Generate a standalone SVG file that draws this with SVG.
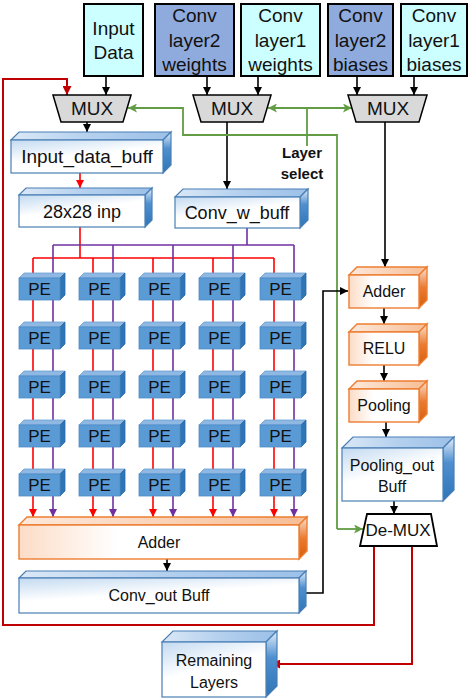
<svg xmlns="http://www.w3.org/2000/svg" xmlns:xlink="http://www.w3.org/1999/xlink" width="474" height="700" viewBox="0 0 474 700">
<style>
text{font-family:"Liberation Sans",Arial,sans-serif;fill:#111;text-anchor:middle}
.src{stroke:#000;stroke-width:2}
.cyan{fill:#ccffff}
.dblue{fill:#8faadc}
.t19{font-size:19px}
.t18{font-size:18px}
.t16{font-size:16px}
.pe{font-size:17px}
.mux{fill:#d9d9d9;stroke:#000;stroke-width:1.5}
.bb{stroke:#4a7fb5;stroke-width:1.2}
.ob{stroke:#ed7d31;stroke-width:1.4}
.bfront{fill:url(#bFront)}
.btop{fill:url(#bTop)}
.bside{fill:url(#bSide)}
.ofront{fill:url(#oFront)}
.otop{fill:url(#oTop)}
.oside{fill:url(#oSide)}
.blk{stroke:#000;stroke-width:1.6;fill:none}
.red{stroke:#ff0000;stroke-width:1.6;fill:none}
.dred{stroke:#c00000;stroke-width:2;fill:none}
.pur{stroke:#7030a0;stroke-width:1.6;fill:none}
.grn{stroke:#629c44;stroke-width:1.8;fill:none}
</style>
<defs>
<linearGradient id="bFront" x1="0" y1="0" x2="0.5" y2="1"><stop offset="0" stop-color="#c3daf1"/><stop offset="0.55" stop-color="#ffffff"/><stop offset="1" stop-color="#ffffff"/></linearGradient>
<linearGradient id="bTop" x1="0" y1="0" x2="1" y2="0"><stop offset="0" stop-color="#dbe8f6"/><stop offset="0.5" stop-color="#b4d0ee"/><stop offset="1" stop-color="#9cc0e8"/></linearGradient>
<linearGradient id="bSide" x1="0" y1="0" x2="0" y2="1"><stop offset="0" stop-color="#e6f0fa"/><stop offset="0.4" stop-color="#4f8fd0"/><stop offset="1" stop-color="#2e75b6"/></linearGradient>
<linearGradient id="oFront" x1="0" y1="0" x2="1" y2="0"><stop offset="0" stop-color="#fcdcc6"/><stop offset="0.35" stop-color="#ffffff"/><stop offset="1" stop-color="#ffffff"/></linearGradient>
<linearGradient id="oTop" x1="0" y1="0" x2="1" y2="0"><stop offset="0" stop-color="#fde9dc"/><stop offset="1" stop-color="#f6bd95"/></linearGradient>
<linearGradient id="oSide" x1="0" y1="0" x2="0" y2="1"><stop offset="0" stop-color="#fbe3d2"/><stop offset="0.5" stop-color="#ea7b33"/><stop offset="1" stop-color="#d85f0b"/></linearGradient>
<g id="peShape">
<polygon points="0,0 5,-5 46,-5 41,0" fill="#8fb9e3" stroke="#6a9fd3" stroke-width="0.8"/>
<polygon points="41,0 46,-5 46,17 41,22" fill="#2e75b6" stroke="#2e6aa8" stroke-width="0.8"/>
<rect x="0" y="0" width="41" height="22" fill="#5b9bd5" stroke="#4f8cc6" stroke-width="0.8"/>
</g>
<marker id="aBlk" viewBox="0 0 8 8" refX="8" refY="4" markerWidth="8" markerHeight="8" markerUnits="userSpaceOnUse" orient="auto-start-reverse"><path d="M0,0 L8,4 L0,8 z" fill="#000"/></marker>
<marker id="aRed" viewBox="0 0 8 8" refX="8" refY="4" markerWidth="8" markerHeight="8" markerUnits="userSpaceOnUse" orient="auto-start-reverse"><path d="M0,0 L8,4 L0,8 z" fill="#ff0000"/></marker>
<marker id="aDred" viewBox="0 0 8 8" refX="8" refY="4" markerWidth="9" markerHeight="9" markerUnits="userSpaceOnUse" orient="auto-start-reverse"><path d="M0,0 L8,4 L0,8 z" fill="#c00000"/></marker>
<marker id="aPur" viewBox="0 0 8 8" refX="8" refY="4" markerWidth="8" markerHeight="8" markerUnits="userSpaceOnUse" orient="auto-start-reverse"><path d="M0,0 L8,4 L0,8 z" fill="#7030a0"/></marker>
<marker id="aGrn" viewBox="0 0 8 8" refX="8" refY="4" markerWidth="9" markerHeight="9" markerUnits="userSpaceOnUse" orient="auto-start-reverse"><path d="M0,0 L8,4 L0,8 L2,4 z" fill="#629c44"/></marker>
</defs>
<rect width="474" height="700" fill="#ffffff"/>

<g id="connectors">
<path class="blk" d="M106,76 V95" marker-end="url(#aBlk)"/>
<path class="blk" d="M207,76 V95" marker-end="url(#aBlk)"/>
<path class="blk" d="M258,76 V95" marker-end="url(#aBlk)"/>
<path class="blk" d="M357,76 V95" marker-end="url(#aBlk)"/>
<path class="blk" d="M414,76 V95" marker-end="url(#aBlk)"/>
<path class="blk" d="M87,122 V132" marker-end="url(#aBlk)"/>
<path class="blk" d="M227,122 V189" marker-end="url(#aBlk)"/>
<path class="blk" d="M385,122 V267" marker-end="url(#aBlk)"/>
<path class="grn" d="M307,108 V146"/>
<path class="grn" d="M268,108 H352" marker-start="url(#aGrn)" marker-end="url(#aGrn)"/>
<path class="grn" d="M337,529 V135 H183 V108 H128" marker-end="url(#aGrn)"/>
<path class="grn" d="M337,529 H363" marker-end="url(#aGrn)"/>
<path class="red" d="M80,173 V188" marker-end="url(#aRed)"/>
<path class="red" d="M80,227 V258"/>
<path class="red" d="M33,258 H274"/>
<path class="pur" d="M247,228 V245"/>
<path class="pur" d="M53,245 H294"/>
<path class="red" d="M33,258 V517" marker-end="url(#aRed)"/>
<path class="red" d="M93,258 V517" marker-end="url(#aRed)"/>
<path class="red" d="M153,258 V517" marker-end="url(#aRed)"/>
<path class="red" d="M213,258 V517" marker-end="url(#aRed)"/>
<path class="red" d="M274,258 V517" marker-end="url(#aRed)"/>
<path class="pur" d="M53,245 V517" marker-end="url(#aPur)"/>
<path class="pur" d="M113,245 V517" marker-end="url(#aPur)"/>
<path class="pur" d="M173,245 V517" marker-end="url(#aPur)"/>
<path class="pur" d="M233,245 V517" marker-end="url(#aPur)"/>
<path class="pur" d="M294,245 V517" marker-end="url(#aPur)"/>
<path class="blk" d="M167,559 V571" marker-end="url(#aBlk)"/>
<path class="blk" d="M300,593 H323 V291 H348" marker-end="url(#aBlk)"/>
<path class="blk" d="M384,308 V324" marker-end="url(#aBlk)"/>
<path class="blk" d="M384,365 V381" marker-end="url(#aBlk)"/>
<path class="blk" d="M386,422 V437" marker-end="url(#aBlk)"/>
<path class="blk" d="M394,501 V514" marker-end="url(#aBlk)"/>
<path class="dred" d="M374,546 V625 H3 V79 H67 V95" marker-end="url(#aDred)"/>
<path class="dred" d="M412,546 V664 H271" marker-end="url(#aDred)"/>
</g>

<g id="input-data"><rect class="src cyan" x="84" y="4" width="59" height="72"/><text class="t19" x="113.5" y="35">Input</text><text class="t19" x="113.5" y="59">Data</text></g>
<g id="conv2-weights"><rect class="src dblue" x="155" y="4" width="79" height="72"/><text class="t19" x="194.5" y="22">Conv</text><text class="t19" x="194.5" y="47">layer2</text><text class="t19" x="194.5" y="71">weights</text></g>
<g id="conv1-weights"><rect class="src cyan" x="241" y="4" width="79" height="72"/><text class="t19" x="280.5" y="22">Conv</text><text class="t19" x="280.5" y="47">layer1</text><text class="t19" x="280.5" y="71">weights</text></g>
<g id="conv2-biases"><rect class="src dblue" x="328" y="4" width="65" height="72"/><text class="t19" x="360.5" y="22">Conv</text><text class="t19" x="360.5" y="47">layer2</text><text class="t19" x="360.5" y="71">biases</text></g>
<g id="conv1-biases"><rect class="src cyan" x="401" y="4" width="66" height="72"/><text class="t19" x="434" y="22">Conv</text><text class="t19" x="434" y="47">layer1</text><text class="t19" x="434" y="71">biases</text></g>

<g id="mux1"><polygon class="mux" points="53,95 131,95 123,122 61,122"/><text class="t19" x="92" y="115">MUX</text></g>
<g id="mux2"><polygon class="mux" points="193,95 271,95 263,122 201,122"/><text class="t19" x="232" y="115">MUX</text></g>
<g id="mux3"><polygon class="mux" points="348,95 427,95 419,122 356,122"/><text class="t19" x="388" y="115">MUX</text></g>

<g id="layer-select"><text x="302" y="158" style="font-size:15px;font-weight:bold">Layer</text><text x="302" y="179" style="font-size:15px;font-weight:bold">select</text></g>

<g id="input-data-buff">
<polygon class="bb btop" points="11,140 19,132 171,132 163,140"/>
<polygon class="bb bside" points="163,140 171,132 171,165 163,173"/>
<rect class="bb bfront" x="11" y="140" width="152" height="33"/>
<text x="87" y="163" style="font-size:19px">Input_data_buff</text>
</g>
<g id="inp-28x28">
<polygon class="bb btop" points="19,195 26,188 152,188 145,195"/>
<polygon class="bb bside" points="145,195 152,188 152,220 145,227"/>
<rect class="bb bfront" x="19" y="195" width="126" height="32"/>
<text class="t18" x="82" y="218">28x28 inp</text>
</g>
<g id="conv-w-buff">
<polygon class="bb btop" points="175,197 183,189 308,189 300,197"/>
<polygon class="bb bside" points="300,197 308,189 308,220 300,228"/>
<rect class="bb bfront" x="175" y="197" width="125" height="31"/>
<text class="t18" x="237" y="219">Conv_w_buff</text>
</g>

<g id="pe-r1-c1"><use href="#peShape" x="19" y="278"/><text class="pe" x="39.5" y="295">PE</text></g>
<g id="pe-r1-c2"><use href="#peShape" x="79" y="278"/><text class="pe" x="99.5" y="295">PE</text></g>
<g id="pe-r1-c3"><use href="#peShape" x="139" y="278"/><text class="pe" x="159.5" y="295">PE</text></g>
<g id="pe-r1-c4"><use href="#peShape" x="199" y="278"/><text class="pe" x="219.5" y="295">PE</text></g>
<g id="pe-r1-c5"><use href="#peShape" x="260" y="278"/><text class="pe" x="280.5" y="295">PE</text></g>
<g id="pe-r2-c1"><use href="#peShape" x="19" y="327"/><text class="pe" x="39.5" y="344">PE</text></g>
<g id="pe-r2-c2"><use href="#peShape" x="79" y="327"/><text class="pe" x="99.5" y="344">PE</text></g>
<g id="pe-r2-c3"><use href="#peShape" x="139" y="327"/><text class="pe" x="159.5" y="344">PE</text></g>
<g id="pe-r2-c4"><use href="#peShape" x="199" y="327"/><text class="pe" x="219.5" y="344">PE</text></g>
<g id="pe-r2-c5"><use href="#peShape" x="260" y="327"/><text class="pe" x="280.5" y="344">PE</text></g>
<g id="pe-r3-c1"><use href="#peShape" x="19" y="376"/><text class="pe" x="39.5" y="393">PE</text></g>
<g id="pe-r3-c2"><use href="#peShape" x="79" y="376"/><text class="pe" x="99.5" y="393">PE</text></g>
<g id="pe-r3-c3"><use href="#peShape" x="139" y="376"/><text class="pe" x="159.5" y="393">PE</text></g>
<g id="pe-r3-c4"><use href="#peShape" x="199" y="376"/><text class="pe" x="219.5" y="393">PE</text></g>
<g id="pe-r3-c5"><use href="#peShape" x="260" y="376"/><text class="pe" x="280.5" y="393">PE</text></g>
<g id="pe-r4-c1"><use href="#peShape" x="19" y="425"/><text class="pe" x="39.5" y="442">PE</text></g>
<g id="pe-r4-c2"><use href="#peShape" x="79" y="425"/><text class="pe" x="99.5" y="442">PE</text></g>
<g id="pe-r4-c3"><use href="#peShape" x="139" y="425"/><text class="pe" x="159.5" y="442">PE</text></g>
<g id="pe-r4-c4"><use href="#peShape" x="199" y="425"/><text class="pe" x="219.5" y="442">PE</text></g>
<g id="pe-r4-c5"><use href="#peShape" x="260" y="425"/><text class="pe" x="280.5" y="442">PE</text></g>
<g id="pe-r5-c1"><use href="#peShape" x="19" y="474"/><text class="pe" x="39.5" y="491">PE</text></g>
<g id="pe-r5-c2"><use href="#peShape" x="79" y="474"/><text class="pe" x="99.5" y="491">PE</text></g>
<g id="pe-r5-c3"><use href="#peShape" x="139" y="474"/><text class="pe" x="159.5" y="491">PE</text></g>
<g id="pe-r5-c4"><use href="#peShape" x="199" y="474"/><text class="pe" x="219.5" y="491">PE</text></g>
<g id="pe-r5-c5"><use href="#peShape" x="260" y="474"/><text class="pe" x="280.5" y="491">PE</text></g>

<g id="adder-main">
<polygon class="ob otop" points="19,525 27,517 307,517 299,525"/>
<polygon class="ob oside" points="299,525 307,517 307,551 299,559"/>
<rect class="ob ofront" x="19" y="525" width="280" height="34"/>
<text class="t16" x="159" y="548">Adder</text>
</g>
<g id="conv-out-buff">
<polygon class="bb btop" points="19,578 26,571 306,571 299,578"/>
<polygon class="bb bside" points="299,578 306,571 306,606 299,613"/>
<rect class="bb bfront" x="19" y="578" width="280" height="35"/>
<text class="t16" x="159" y="601">Conv_out Buff</text>
</g>

<g id="adder-bias">
<polygon class="ob otop" points="349,275 357,267 427,267 419,275"/>
<polygon class="ob oside" points="419,275 427,267 427,300 419,308"/>
<rect class="ob ofront" x="349" y="275" width="70" height="33"/>
<text class="t16" x="384" y="297">Adder</text>
</g>
<g id="relu">
<polygon class="ob otop" points="349,332 357,324 427,324 419,332"/>
<polygon class="ob oside" points="419,332 427,324 427,357 419,365"/>
<rect class="ob ofront" x="349" y="332" width="70" height="33"/>
<text class="t16" x="384" y="354">RELU</text>
</g>
<g id="pooling">
<polygon class="ob otop" points="349,389 357,381 427,381 419,389"/>
<polygon class="ob oside" points="419,389 427,381 427,414 419,422"/>
<rect class="ob ofront" x="349" y="389" width="70" height="33"/>
<text class="t16" x="384" y="411">Pooling</text>
</g>
<g id="pooling-out-buff">
<polygon class="bb btop" points="342,448 353,437 454,437 443,448"/>
<polygon class="bb bside" points="443,448 454,437 454,490 443,501"/>
<rect class="bb bfront" x="342" y="448" width="101" height="53"/>
<text class="t16" x="392" y="471">Pooling_out</text>
<text class="t16" x="392" y="492">Buff</text>
</g>
<g id="demux"><polygon points="367,514 431,514 437,546 360,546" fill="#ffffff" stroke="#000" stroke-width="1.8"/><text x="398" y="536" style="font-size:17px">De-MUX</text></g>
<g id="remaining-layers">
<polygon class="bb btop" points="162,642 173,631 277,631 266,642"/>
<polygon class="bb bside" points="266,642 277,631 277,686 266,697"/>
<rect class="bb bfront" x="162" y="642" width="104" height="55"/>
<text class="t16" x="214" y="666">Remaining</text>
<text class="t16" x="214" y="688">Layers</text>
</g>
</svg>
